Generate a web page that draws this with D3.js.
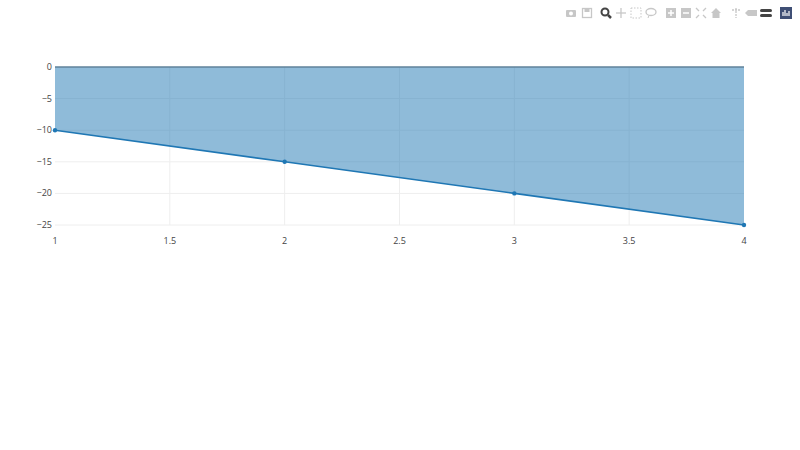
<!DOCTYPE html>
<html>
<head>
<meta charset="utf-8">
<script src="https://cdn.jsdelivr.net/npm/d3@7"></script>
<style>
  body { margin: 0; background: #fff; }
  svg { font-family: "Open Sans", sans-serif; }
</style>
</head>
<body>
<svg id="chart" width="800" height="450"></svg>
<script>
// data
var xValues = [1, 2, 3, 4];
var yValues = [-10, -15, -20, -25];
var xTicks = [1, 1.5, 2, 2.5, 3, 3.5, 4];
var yTicks = [0, -5, -10, -15, -20, -25];

var svg = d3.select('#chart');
var plotLeft = 55, plotRight = 744, plotTop = 67, plotBottom = 225;

var x = d3.scaleLinear().domain([1, 4]).range([plotLeft, plotRight]);
var y = d3.scaleLinear().domain([-25, 0]).range([plotBottom, plotTop]);

var fmt = function(v) { return String(v).replace('-', '\u2212'); };

// grid
svg.append('g').selectAll('line')
    .data(xTicks.filter(function(d) { return d !== 1 && d !== 4; }))
  .enter().append('line')
    .attr('x1', function(d) { return x(d); })
    .attr('x2', function(d) { return x(d); })
    .attr('y1', plotTop).attr('y2', plotBottom)
    .attr('stroke', '#eee').attr('stroke-width', 1);

svg.append('g').selectAll('line')
    .data(yTicks.filter(function(d) { return d !== 0; }))
  .enter().append('line')
    .attr('x1', plotLeft).attr('x2', plotRight)
    .attr('y1', function(d) { return y(d); })
    .attr('y2', function(d) { return y(d); })
    .attr('stroke', '#eee').attr('stroke-width', 1);

var pts = xValues.map(function(v, i) { return [v, yValues[i]]; });

// fill to zero
var area = d3.area()
    .x(function(d) { return x(d[0]); })
    .y0(function() { return y(0); })
    .y1(function(d) { return y(d[1]); });
svg.append('path')
    .datum(pts)
    .attr('d', area)
    .attr('fill', 'rgba(31,119,180,0.5)');

// zero line, seen through the fill
svg.append('line')
    .attr('x1', plotLeft).attr('x2', plotRight)
    .attr('y1', y(0)).attr('y2', y(0))
    .attr('stroke', '#5f829a').attr('stroke-width', 1.5);

// line + markers
var line = d3.line()
    .x(function(d) { return x(d[0]); })
    .y(function(d) { return y(d[1]); });
svg.append('path')
    .datum(pts)
    .attr('d', line)
    .attr('fill', 'none')
    .attr('stroke', '#1f77b4')
    .attr('stroke-width', 1.6);
svg.append('g').selectAll('circle')
    .data(pts)
  .enter().append('circle')
    .attr('cx', function(d) { return x(d[0]); })
    .attr('cy', function(d) { return y(d[1]); })
    .attr('r', 2.2)
    .attr('fill', '#1f77b4');

// tick labels
svg.append('g').selectAll('text')
    .data(xTicks)
  .enter().append('text')
    .attr('x', function(d) { return x(d); })
    .attr('y', 244)
    .attr('text-anchor', 'middle')
    .attr('font-size', 9)
    .attr('fill', '#444')
    .text(function(d) { return d; });

svg.append('g').selectAll('text')
    .data(yTicks)
  .enter().append('text')
    .attr('x', 52)
    .attr('y', function(d) { return y(d) + 3; })
    .attr('text-anchor', 'end')
    .attr('font-size', 9)
    .attr('fill', '#444')
    .text(fmt);

// modebar (rough glyphs)
var mb = svg.append('g').attr('fill', '#c7c7c7').attr('stroke', '#c7c7c7');
var icons = [
  {cx: 571, kind: 'camera'}, {cx: 587, kind: 'save'},
  {cx: 606, kind: 'zoom'}, {cx: 621, kind: 'pan'},
  {cx: 636, kind: 'select'}, {cx: 651, kind: 'lasso'},
  {cx: 671, kind: 'plus'}, {cx: 686, kind: 'minus'},
  {cx: 701, kind: 'auto'}, {cx: 716, kind: 'home'},
  {cx: 735, kind: 'spike'}, {cx: 751, kind: 'closest'},
  {cx: 766, kind: 'compare'}
];
icons.forEach(function(ic) {
  var g = mb.append('g').attr('transform', 'translate(' + ic.cx + ',13)');
  switch (ic.kind) {
    case 'camera':
      g.append('rect').attr('x', -5).attr('y', -3).attr('width', 10).attr('height', 7).attr('rx', 1).attr('stroke', 'none');
      g.append('circle').attr('r', 2).attr('cy', 0.5).attr('fill', '#fff').attr('stroke', 'none');
      break;
    case 'save':
      g.append('rect').attr('x', -4.5).attr('y', -4.5).attr('width', 9).attr('height', 9).attr('fill', 'none').attr('stroke-width', 1.3);
      g.append('rect').attr('x', -2.5).attr('y', -4).attr('width', 5).attr('height', 3).attr('stroke', 'none');
      break;
    case 'zoom':
      g.append('circle').attr('r', 3.5).attr('cx', -1).attr('cy', -1).attr('fill', 'none').attr('stroke', '#444').attr('stroke-width', 2);
      g.append('line').attr('x1', 2).attr('y1', 2).attr('x2', 5).attr('y2', 5).attr('stroke', '#444').attr('stroke-width', 2.5);
      break;
    case 'pan':
      g.append('line').attr('x1', -5).attr('x2', 5).attr('stroke-width', 1.3);
      g.append('line').attr('y1', -5).attr('y2', 5).attr('stroke-width', 1.3);
      break;
    case 'select':
      g.append('rect').attr('x', -5).attr('y', -5).attr('width', 10).attr('height', 10).attr('fill', 'none').attr('stroke-dasharray', '1.5,1.5');
      break;
    case 'lasso':
      g.append('ellipse').attr('rx', 5).attr('ry', 3.5).attr('cy', -1).attr('fill', 'none').attr('stroke-width', 1.3);
      g.append('line').attr('x1', -2).attr('y1', 2.5).attr('x2', -3).attr('y2', 5);
      break;
    case 'plus':
      g.append('rect').attr('x', -5).attr('y', -5).attr('width', 10).attr('height', 10).attr('stroke', 'none');
      g.append('path').attr('d', 'M-3,0H3M0,-3V3').attr('stroke', '#fff').attr('stroke-width', 1.5);
      break;
    case 'minus':
      g.append('rect').attr('x', -5).attr('y', -5).attr('width', 10).attr('height', 10).attr('stroke', 'none');
      g.append('path').attr('d', 'M-3,0H3').attr('stroke', '#fff').attr('stroke-width', 1.5);
      break;
    case 'auto':
      g.append('path').attr('d', 'M-5,-5L-2,-2M5,-5L2,-2M-5,5L-2,2M5,5L2,2').attr('fill', 'none').attr('stroke-width', 1.3);
      break;
    case 'home':
      g.append('path').attr('d', 'M-5,0L0,-5L5,0H3.5V5H-3.5V0Z').attr('stroke', 'none');
      break;
    case 'spike':
      g.append('path').attr('d', 'M1,-5V5M-3,-3H5').attr('fill', 'none').attr('stroke-width', 1.3).attr('stroke-dasharray', '2,1');
      break;
    case 'closest':
      g.append('path').attr('d', 'M-6,0L-3,-3H6V3H-3Z').attr('stroke', 'none');
      break;
    case 'compare':
      g.append('rect').attr('x', -6).attr('y', -4).attr('width', 12).attr('height', 3).attr('rx', 1.5).attr('fill', '#444').attr('stroke', 'none');
      g.append('rect').attr('x', -6).attr('y', 1).attr('width', 12).attr('height', 3).attr('rx', 1.5).attr('fill', '#444').attr('stroke', 'none');
      break;
  }
});
// plotly logo block
var logo = svg.append('g').attr('transform', 'translate(786,13)');
logo.append('rect').attr('x', -6).attr('y', -6).attr('width', 12).attr('height', 12).attr('fill', '#3f4f75');
logo.append('path').attr('d', 'M-3,3V-1M-1,3V-3M1,3V0M3,3V-2').attr('stroke', '#fff').attr('stroke-width', 1.2);
</script>
</body>
</html>
